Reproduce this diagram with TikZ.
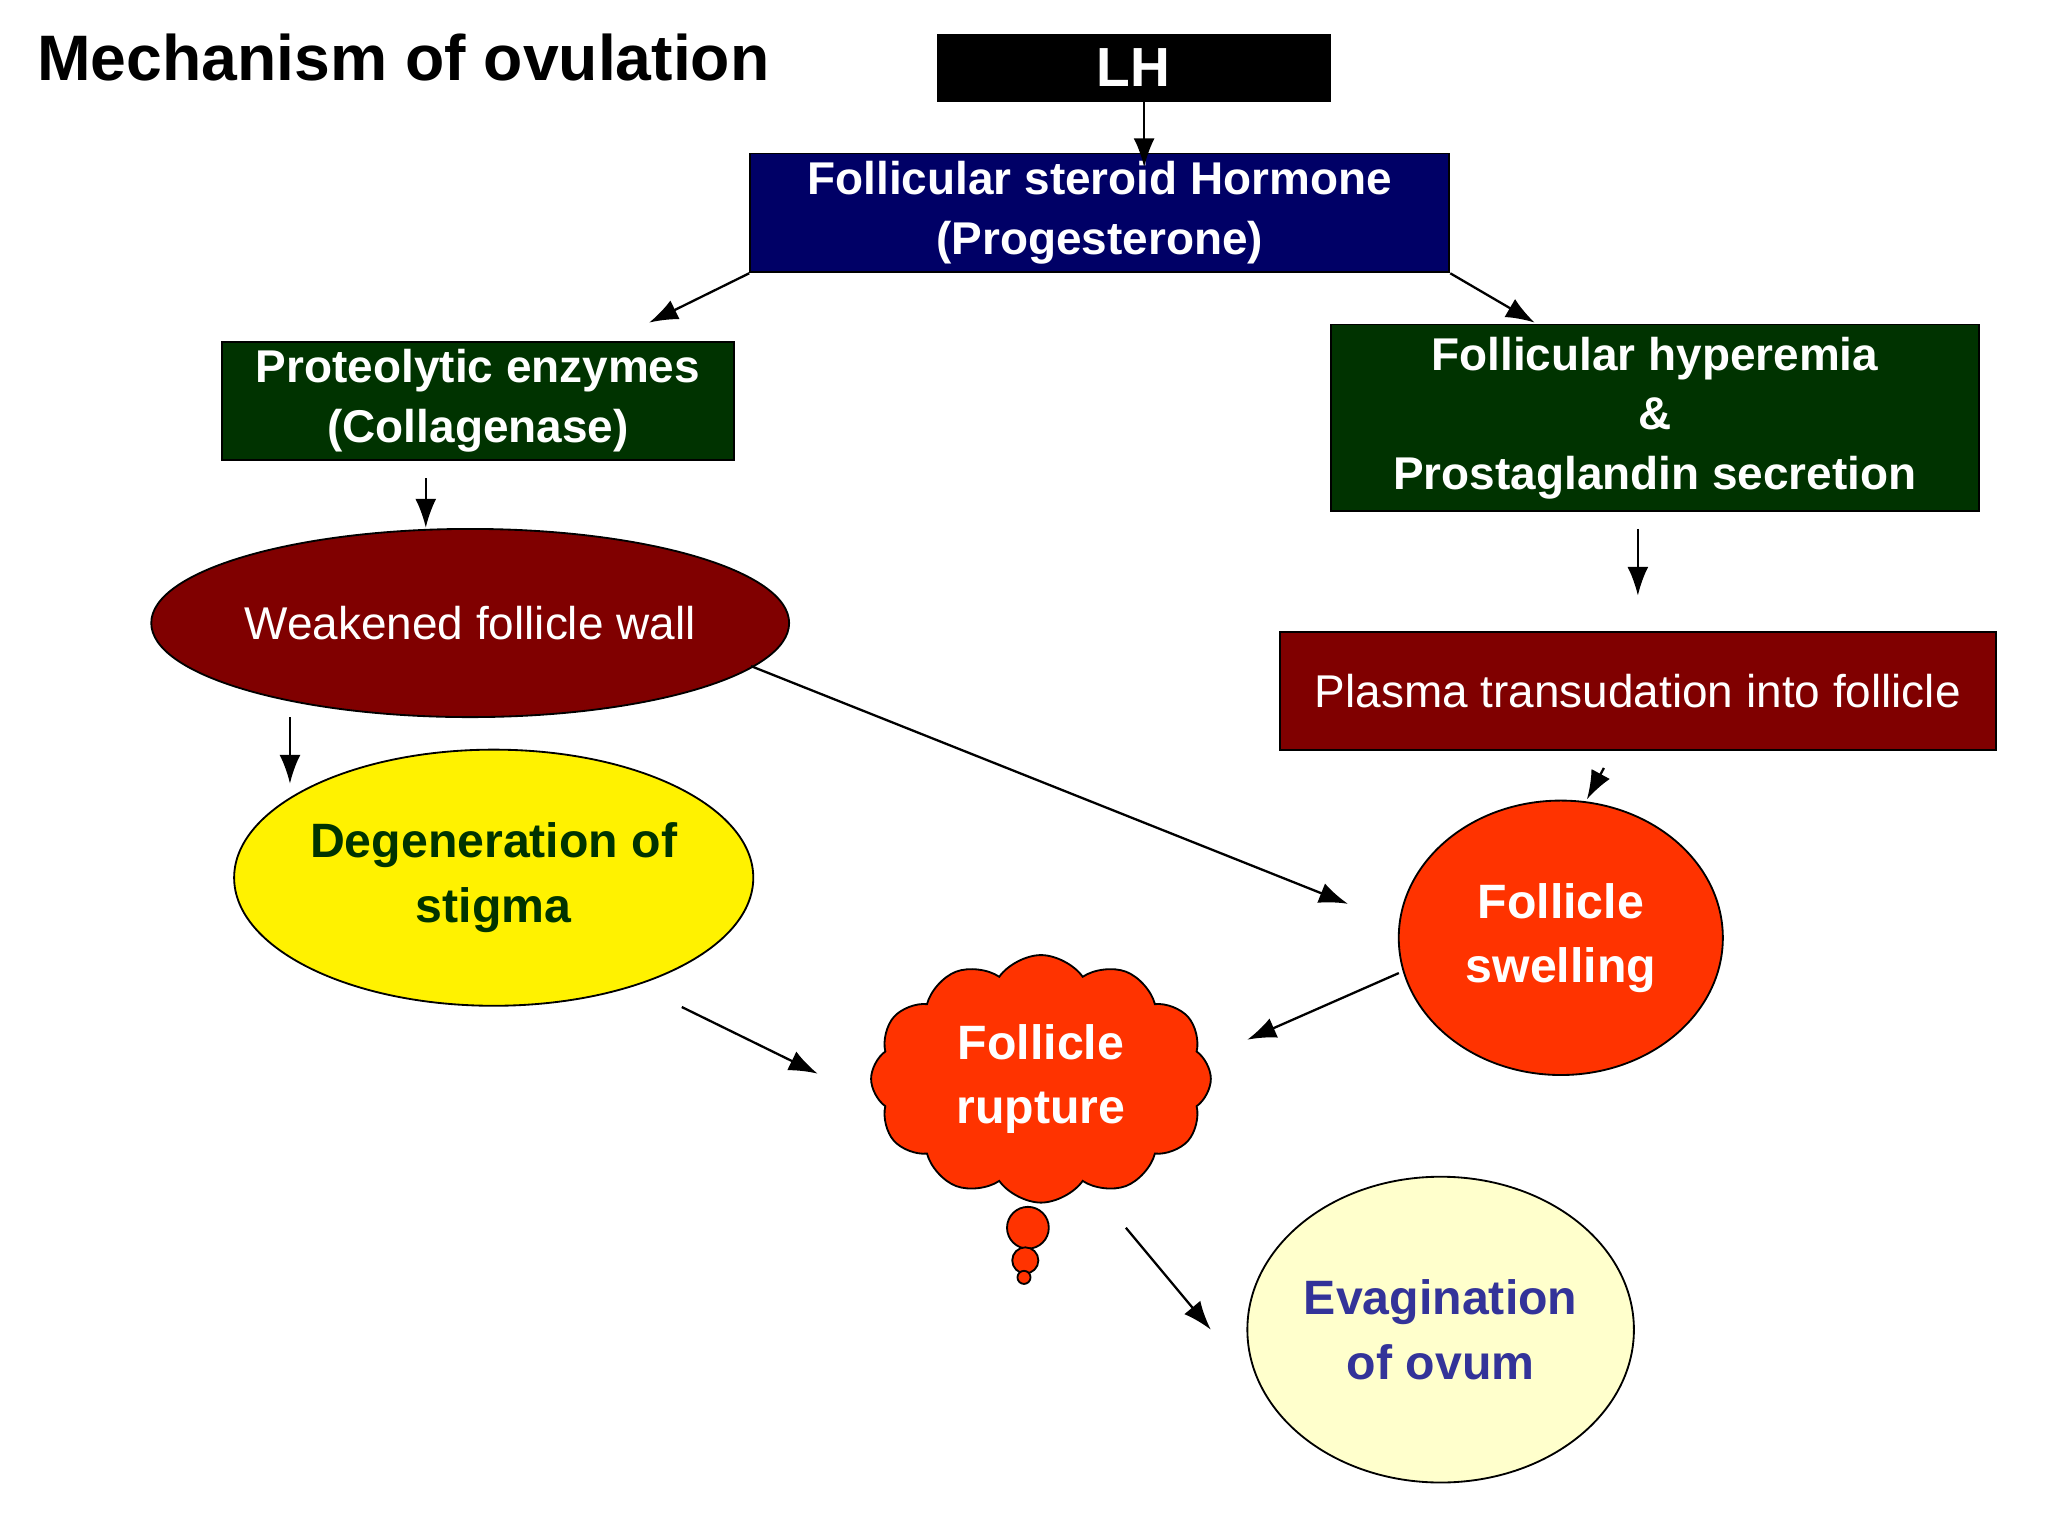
\documentclass[tikz,border=0pt]{standalone}
\usepackage{fontspec}
\setmainfont{Liberation Sans}
\usetikzlibrary{shapes.geometric,shapes.symbols,arrows.meta}
\definecolor{navybox}{HTML}{000066}
\definecolor{greenbox}{HTML}{003300}
\definecolor{maroonbox}{HTML}{800000}
\definecolor{orangered}{HTML}{FF3300}
\definecolor{paleyel}{HTML}{FFFFCC}
\definecolor{ovumtext}{HTML}{333399}
\tikzset{
  box/.style={draw, fill=#1, text=white, font=\bfseries\fontsize{10}{13}\selectfont, align=center, inner sep=0pt},
  oval/.style={draw, ellipse, fill=#1, align=center, inner sep=0pt},
  arr/.style={-{Latex[length=2.2mm,width=1.6mm]}, line width=0.5pt}
}
\begin{document}
\begin{tikzpicture}[x=0.01cm, y=-0.01cm]
		\useasboundingbox (0, 0) rectangle (1568, 1176);
		\node[anchor=west, font=\bfseries\fontsize{14}{16}\selectfont] (title) at (16, 44) {Mechanism of ovulation};
		
		\node[box=black, minimum width=3cm, minimum height=0.5cm, font=\bfseries\fontsize{12}{14}\selectfont] (lh) at (868, 52) {LH};
		\node[box=navybox, minimum width=5.35cm, minimum height=0.91cm] (hormone) at (842, 163) {Follicular steroid Hormone\\(Progesterone)};
		\node[box=greenbox, minimum width=3.92cm, minimum height=0.9cm] (enzymes) at (366, 307) {Proteolytic enzymes\\(Collagenase)};
		\node[box=greenbox, minimum width=4.96cm, minimum height=1.43cm] (hyperemia) at (1267, 320) {Follicular hyperemia\\\&\\Prostaglandin secretion};
		\node[box=maroonbox, minimum width=5.48cm, minimum height=0.9cm, font=\fontsize{10}{13}\selectfont] (plasma) at (1254, 529) {Plasma transudation into follicle};
		
		\node[oval=maroonbox, minimum width=4.06cm, minimum height=1.44cm, text=white, font=\fontsize{10}{13}\selectfont] (weak) at (360, 477) {Weakened follicle wall};
		\node[oval=yellow, minimum width=3.66cm, minimum height=1.96cm, text=greenbox, font=\bfseries\fontsize{10.5}{14}\selectfont] (stigma) at (378, 672) {Degeneration of\\stigma};
		\node[oval=orangered, minimum width=2.48cm, minimum height=2.1cm, text=white, font=\bfseries\fontsize{10.5}{14}\selectfont] (swelling) at (1195, 718) {Follicle\\swelling};
		\node[draw, cloud, cloud puffs=12, cloud puff arc=110, aspect=1.3, fill=orangered, minimum width=2.6cm, minimum height=1.85cm, text=white, align=center, font=\bfseries\fontsize{10.5}{14}\selectfont] (rupture) at (797, 826) {Follicle\\rupture};
		\node[oval=paleyel, minimum width=2.74cm, minimum height=2.34cm, text=ovumtext, font=\bfseries\fontsize{10.5}{14}\selectfont] (ovum) at (1103, 1018) {Evagination\\of ovum};
		
		\draw[fill=orangered] (787, 940) circle (16);
		\draw[fill=orangered] (785, 965) circle (10);
		\draw[fill=orangered] (784, 978) circle (5);
		
		\coordinate (a1) at (876, 128);
		\coordinate (a2) at (497, 247);
		\coordinate (a3) at (1175, 247);
		\coordinate (b4) at (326, 366);
		\coordinate (a4) at (326, 404);
		\coordinate (b5) at (1254, 405);
		\coordinate (a5) at (1254, 456);
		\coordinate (b6) at (222, 549);
		\coordinate (a6) at (222, 600);
		\coordinate (b7) at (575, 510);
		\coordinate (a7) at (1032, 692);
		\coordinate (b8) at (1228, 588);
		\coordinate (a8) at (1215, 612);
		\coordinate (b9) at (522, 771);
		\coordinate (a9) at (626, 822);
		\coordinate (b10) at (1071, 745);
		\coordinate (a10) at (955, 796);
		\coordinate (b11) at (862, 940);
		\coordinate (a11) at (927, 1018);
		
		\draw[arr] (lh.south -| a1) -- (a1);
		\draw[arr] (hormone.south west) -- (a2);
		\draw[arr] (hormone.south east) -- (a3);
		\draw[arr] (b4) -- (a4);
		\draw[arr] (b5) -- (a5);
		\draw[arr] (b6) -- (a6);
		\draw[arr] (b7) -- (a7);
		\draw[arr] (b8) -- (a8);
		\draw[arr] (b9) -- (a9);
		\draw[arr] (b10) -- (a10);
		\draw[arr] (b11) -- (a11);
	\end{tikzpicture}
\end{document}
